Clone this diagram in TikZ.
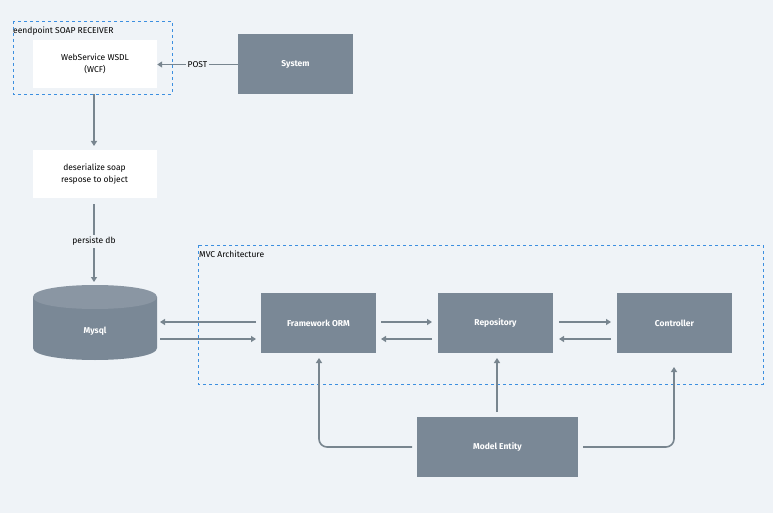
\documentclass[tikz,border=0pt]{standalone}
\usepackage{fontspec}
\setmainfont{Fira Sans}
\usetikzlibrary{arrows.meta,shapes.geometric}
\definecolor{bg}{HTML}{EFF3F7}
\definecolor{gbox}{HTML}{7A8896}
\definecolor{ln}{HTML}{78858F}
\definecolor{dash}{HTML}{3C8FE0}
\begin{document}
\begin{tikzpicture}[x=1pt,y=-1pt,
  gray/.style={draw=none,fill=gbox,text=white,font=\fontsize{8.5}{10}\selectfont\bfseries,minimum width=115pt,minimum height=60pt},
  white/.style={draw=none,fill=white,font=\fontsize{8.5}{12}\selectfont,align=center,minimum width=124pt,minimum height=48pt},
  arr/.style={draw=ln,line width=1.6pt,-{Triangle[length=5pt,width=6pt]}},
  dbox/.style={draw=dash,dashed,line width=0.8pt},
  lbl/.style={font=\fontsize{8.5}{10}\selectfont,fill=bg,inner sep=2pt}]
\fill[bg] (0,0) rectangle (773,513);
\useasboundingbox (0,0) rectangle (773,513);
\draw[dbox] (13,21) rectangle (172,94);
\node[anchor=west,font=\fontsize{8.5}{10}\selectfont,inner sep=0] (soaplbl) at (13,31) {eendpoint SOAP RECEIVER};
\node[white] (ws) at (95,64) {WebService WSDL\\(WCF)};
\node[gray] (sys) at (295.5,64.5) {System};
\node[white] (des) at (94.5,174) {deserialize soap\\respose to object};
\draw[dbox] (198,245) rectangle (763,384);
\node[anchor=west,font=\fontsize{8.5}{10}\selectfont,inner sep=0] (mvclbl) at (199,254) {MVC Architecture};
\node[gray] (orm) at (318.5,323) {Framework ORM};
\node[gray] (rep) at (495.5,323) {Repository};
\node[gray] (ctl) at (674.5,323) {Controller};
\node[gray,minimum width=161pt] (me) at (497.5,447) {Model Entity};
% cylinder
\fill[gbox] (33,297) -- (33,348) .. controls (33,364) and (157,364) .. (157,348) -- (157,297) -- cycle;
\fill[gbox!88!white] (33,297) .. controls (33,281) and (157,281) .. (157,297) .. controls (157,313) and (33,313) .. (33,297) -- cycle;
\node[font=\fontsize{8.5}{10}\selectfont\bfseries,text=white] (db) at (95,331) {Mysql};
\coordinate (dbtop) at (94,282);
% arrows
\draw[arr] (sys.west) -- node[lbl]{POST} (ws.east|-sys.west);
\draw[arr] (94,94) -- (94,146);
\draw[arr] (94,204) -- node[lbl,pos=0.48]{persiste db} (dbtop);
\draw[arr] (256,322) -- (160,322);
\draw[arr] (160,339) -- (256,339);
\draw[arr] (381,322) -- (432,322);
\draw[arr] (432,339) -- (381,339);
\draw[arr] (559,322) -- (611,322);
\draw[arr] (611,339) -- (559,339);
\draw[arr,rounded corners=8pt] (412,447) -- (319,447) -- (319,358);
\draw[arr] (497,412) -- (497,358);
\draw[arr,rounded corners=8pt] (583,447) -- (674,447) -- (674,367);
\end{tikzpicture}
\end{document}
